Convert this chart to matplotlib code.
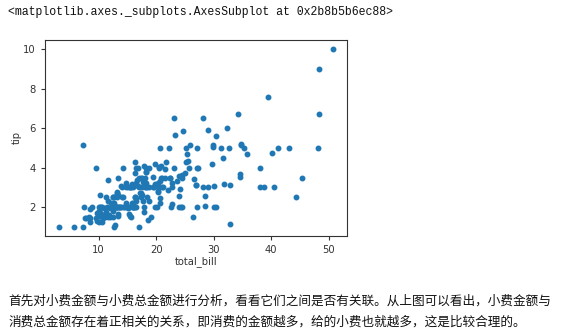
import numpy as np
import matplotlib
matplotlib.use('Agg')
from matplotlib import pyplot as plt

# tips dataset: total_bill / tip
total_bill = [16.99, 10.34, 21.01, 23.68, 24.59, 25.29, 8.77, 26.88, 15.04, 14.78,
              10.27, 35.26, 15.42, 18.43, 14.83, 21.58, 10.33, 16.29, 16.97, 20.65,
              17.92, 20.29, 15.77, 39.42, 19.82, 17.81, 13.37, 12.69, 21.70, 19.65,
              9.55, 18.35, 15.06, 20.69, 17.78, 24.06, 16.31, 16.93, 18.69, 31.27,
              16.04, 17.46, 13.94, 9.68, 30.40, 18.29, 22.23, 32.40, 28.55, 18.04,
              12.54, 10.29, 34.81, 9.94, 25.56, 19.49, 38.01, 26.41, 11.24, 48.27,
              20.29, 13.81, 11.02, 18.29, 17.59, 20.08, 16.45, 3.07, 20.23, 15.01,
              12.02, 17.07, 26.86, 25.28, 14.73, 10.51, 17.92, 27.20, 22.76, 17.29,
              19.44, 16.66, 10.07, 32.68, 15.98, 34.83, 13.03, 18.28, 24.71, 21.16,
              28.97, 22.49, 5.75, 16.32, 22.75, 40.17, 27.28, 12.03, 21.01, 12.46,
              11.35, 15.38, 44.30, 22.42, 20.92, 15.36, 20.49, 25.21, 18.24, 14.31,
              14.00, 7.25, 38.07, 23.95, 25.71, 17.31, 29.93, 10.65, 12.43, 24.08,
              11.69, 13.42, 14.26, 15.95, 12.48, 29.80, 8.52, 14.52, 11.38, 22.82,
              19.08, 20.27, 11.17, 12.26, 18.26, 8.51, 10.33, 14.15, 16.00, 13.16,
              17.47, 34.30, 41.19, 27.05, 16.43, 8.35, 18.64, 11.87, 9.78, 7.51,
              14.07, 13.13, 17.26, 24.55, 19.77, 29.85, 48.17, 25.00, 13.39, 16.49,
              21.50, 12.66, 16.21, 13.81, 17.51, 24.52, 20.76, 31.71, 10.59, 10.63,
              50.81, 15.81, 7.25, 31.85, 16.82, 32.90, 17.89, 14.48, 9.60, 34.63,
              34.65, 23.33, 45.35, 23.17, 40.55, 20.69, 20.90, 30.46, 18.15, 23.10,
              15.69, 19.81, 28.44, 15.48, 16.58, 7.56, 10.34, 43.11, 13.00, 13.51,
              18.71, 12.74, 13.00, 16.40, 20.53, 16.47, 26.59, 38.73, 24.27, 12.76,
              30.06, 25.89, 48.33, 13.27, 28.17, 12.90, 28.15, 11.59, 7.74, 30.14,
              12.16, 13.42, 8.58, 15.98, 13.42, 16.27, 10.09, 20.45, 13.28, 22.12,
              24.01, 15.69, 11.61, 10.77, 15.53, 10.07, 12.60, 32.83, 35.83, 29.03,
              27.18, 22.67, 17.82, 18.78]
tip = [1.01, 1.66, 3.50, 3.31, 3.61, 4.71, 2.00, 3.12, 1.96, 3.23,
       1.71, 5.00, 1.57, 3.00, 3.02, 3.92, 1.67, 3.71, 3.50, 3.35,
       4.08, 2.75, 2.23, 7.58, 3.18, 2.34, 2.00, 2.00, 4.30, 3.00,
       1.45, 2.50, 3.00, 2.45, 3.27, 3.60, 2.00, 3.07, 2.31, 5.00,
       2.24, 2.54, 3.06, 1.32, 5.60, 3.00, 5.00, 6.00, 2.05, 3.00,
       2.50, 2.60, 5.20, 1.56, 4.34, 3.51, 3.00, 1.50, 1.76, 6.73,
       3.21, 2.00, 1.98, 3.76, 2.64, 3.15, 2.47, 1.00, 2.01, 2.09,
       1.97, 3.00, 3.14, 5.00, 2.20, 1.25, 3.08, 4.00, 3.00, 2.71,
       3.00, 3.40, 1.83, 5.00, 2.03, 5.17, 2.00, 4.00, 5.85, 3.00,
       3.00, 3.50, 1.00, 4.30, 3.25, 4.73, 4.00, 1.50, 3.00, 1.50,
       2.50, 3.00, 2.50, 3.48, 4.08, 1.64, 4.06, 4.29, 3.76, 4.00,
       3.00, 1.00, 4.00, 2.55, 4.00, 3.50, 5.07, 1.50, 1.80, 2.92,
       2.31, 1.68, 2.50, 2.00, 2.52, 4.20, 1.48, 2.00, 2.00, 2.18,
       1.50, 2.83, 1.50, 2.00, 3.25, 1.25, 2.00, 2.00, 2.00, 2.75,
       3.50, 6.70, 5.00, 5.00, 2.30, 1.50, 1.36, 1.63, 1.73, 2.00,
       2.50, 2.00, 2.74, 2.00, 2.00, 5.14, 5.00, 3.75, 2.61, 2.00,
       3.50, 2.50, 2.00, 2.00, 3.00, 3.48, 2.24, 4.50, 1.61, 2.00,
       10.00, 3.16, 5.15, 3.18, 4.00, 3.11, 2.00, 2.00, 4.00, 3.55,
       3.68, 5.65, 3.50, 6.50, 3.00, 5.00, 3.50, 2.00, 3.50, 4.00,
       1.50, 4.19, 2.56, 2.02, 4.00, 1.44, 2.00, 5.00, 2.00, 2.00,
       4.00, 2.01, 2.00, 2.50, 4.00, 3.23, 3.41, 3.00, 2.03, 2.23,
       2.00, 5.16, 9.00, 2.50, 6.50, 1.10, 3.00, 1.50, 1.44, 3.09,
       2.20, 3.48, 1.92, 3.00, 1.58, 2.50, 2.00, 3.00, 2.72, 2.88,
       2.00, 3.00, 3.39, 1.47, 3.00, 1.25, 1.00, 1.17, 4.67, 5.92,
       2.00, 2.00, 1.75, 3.00]

header = '<matplotlib.axes._subplots.AxesSubplot at 0x2b8b5b6ec88>'
para = ['首先对小费金额与小费总金额进行分析，看看它们之间是否有关联。从上图可以看出，小费金额与',
        '消费总金额存在着正相关的关系，即消费的金额越多，给的小费也就越多，这是比较合理的。']

W, H = 567, 336
fig = plt.figure(figsize=(W / 100, H / 100), dpi=100)

ax = fig.add_axes([45 / W, (H - 236) / H, 302 / W, 196 / H])
ax.scatter(total_bill, tip, s=10.4, color='#1f77b4')
ax.set_xlabel('total_bill', fontsize=7.2, color='#333333', labelpad=1)
ax.set_ylabel('tip', fontsize=7.2, color='#333333', labelpad=1)
ax.tick_params(labelsize=7.2, colors='#333333', length=3)
for sp in ax.spines.values():
    sp.set_color('#333333')

fig.text(8 / W, 1 - 12 / H, header, fontsize=8.3, family='Liberation Mono',
         color='#111111', va='center', ha='left')
for i, line in enumerate(para):
    fig.text(8 / W, 1 - (301 + 21 * i) / H, line, fontsize=9.1,
             family=['Noto Sans CJK SC', 'DejaVu Sans'], color='#111111',
             va='center', ha='left')

fig.savefig('out.png', dpi=100)
